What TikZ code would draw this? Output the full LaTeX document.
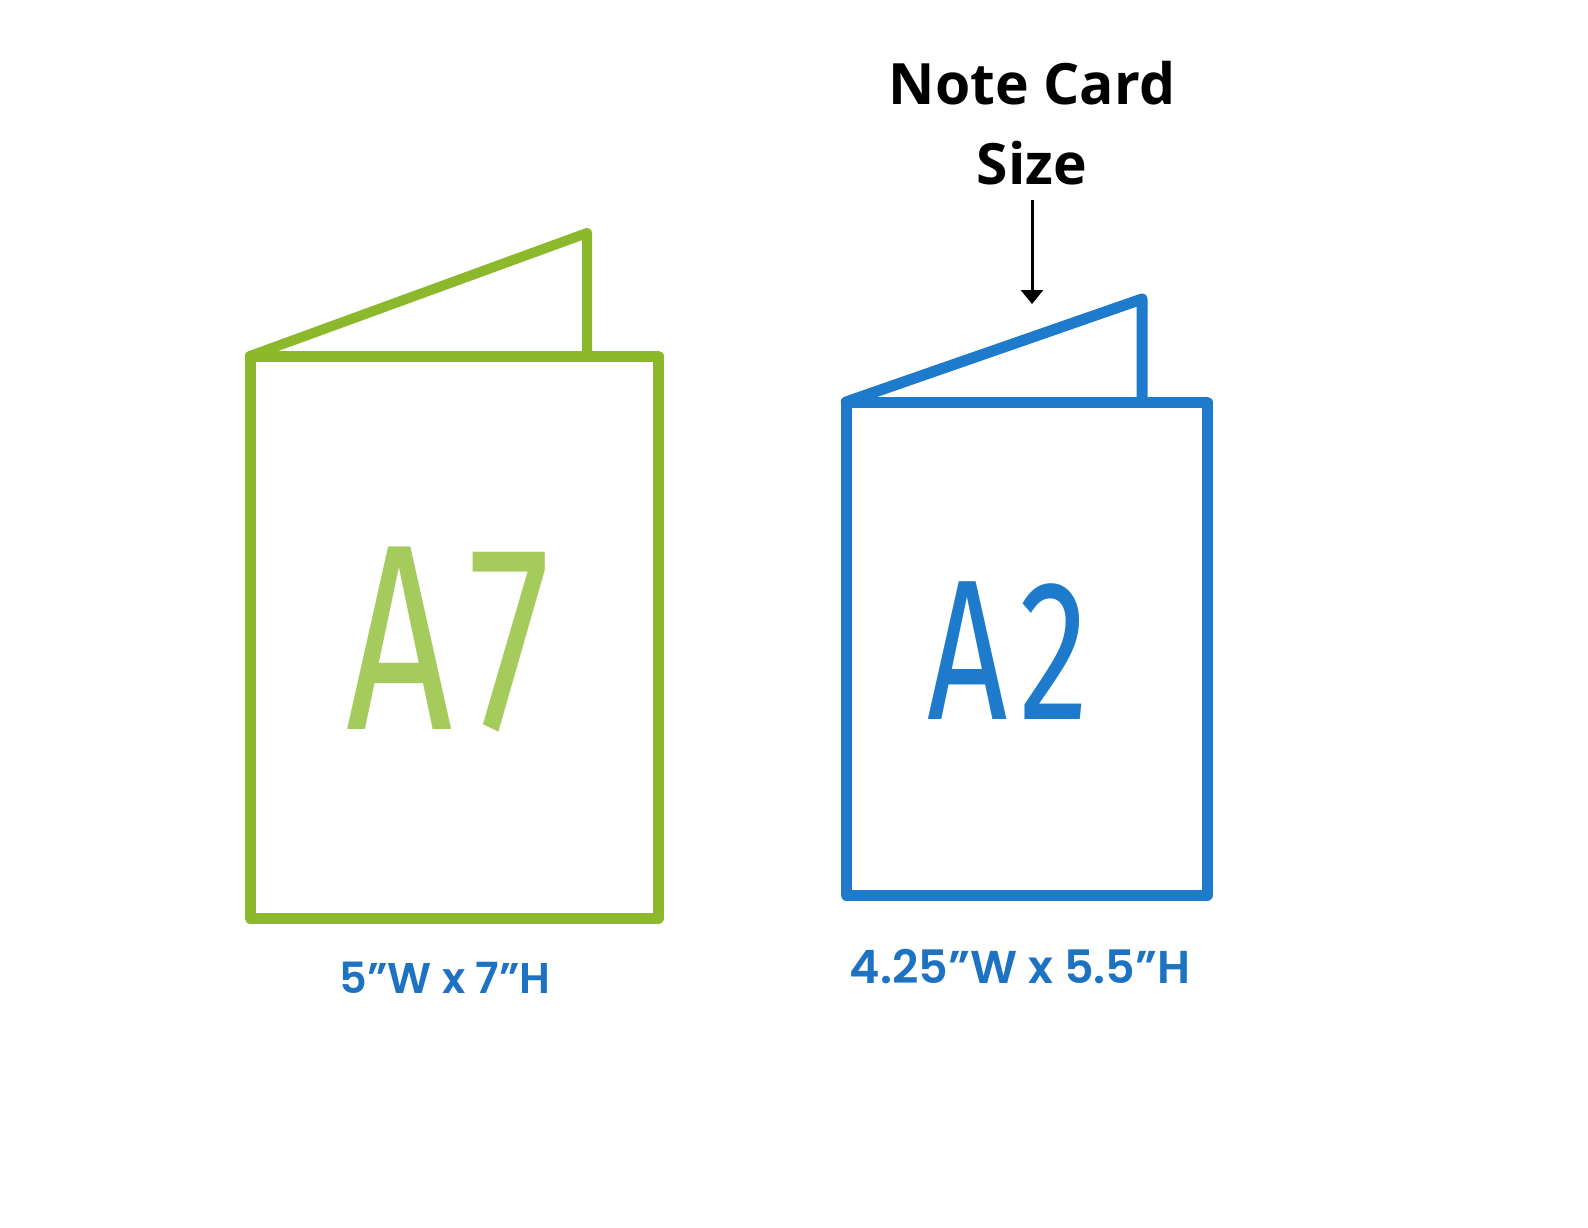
\documentclass[tikz,border=0pt]{standalone}
\usepackage{fontspec}
\usetikzlibrary{arrows.meta}
\newfontfamily\titlefont{Open Sans}
\newfontfamily\labelfont{Poppins SemiBold}
\newfontfamily\handfont{Fira Sans}
\definecolor{cardgreen}{RGB}{140,184,43}
\definecolor{lettergreen}{RGB}{165,203,92}
\definecolor{cardblue}{RGB}{30,123,203}
\definecolor{labelblue}{RGB}{29,114,194}
\tikzset{
  cardline/.style={line width=#1, line join=round, line cap=round},
  titletext/.style={font=\titlefont\bfseries\fontsize{57}{57}\selectfont, text=black, inner sep=0pt, anchor=base},
  sizelabel/.style={font=\labelfont\fontsize{#1}{#1}\selectfont, text=labelblue, inner sep=0pt, anchor=base},
  bigletters/.style={font=\handfont\fontsize{#1}{#1}\selectfont, inner sep=0pt, anchor=base, xscale=0.7},
  pointer/.style={line width=3pt, -{Triangle[width=22pt,length=14pt]}}
}
\begin{document}
\begin{tikzpicture}[x=1pt,y=-1pt]
\useasboundingbox[fill=white] (0,0) rectangle (1588,1227);
% A7 card
\draw[cardgreen, cardline=11pt] (250,918) -- (250,356) -- (658,356) -- (658,918) -- cycle;
\draw[cardgreen, cardline=10pt] (250,356) -- (587,233) -- (587,356);
\node[bigletters=265, text=lettergreen] (a7) at (449,729) {A\hspace{22pt}7};
% A2 card
\draw[cardblue, cardline=11pt] (846,895) -- (846,402) -- (1207,402) -- (1207,895) -- cycle;
\draw[cardblue, cardline=11pt] (846,402) -- (1142,299) -- (1142,402);
\node[bigletters=200, text=cardblue] (a2) at (1008,719) {A\hspace{16pt}2};
% title and arrow
\node[titletext] (title1) at (1032,104) {Note Card};
\node[titletext] (title2) at (1032,184) {Size};
\coordinate (arrowtop) at (1032,200);
\coordinate (arrowtip) at (1032,304);
\draw[pointer] (arrowtop) -- (arrowtip);
% size labels
\node[sizelabel=43] (la7) at (445,993) {5”W x 7”H};
\node[sizelabel=46] (la2) at (1020,983) {4.25”W x 5.5”H};
\end{tikzpicture}
\end{document}
